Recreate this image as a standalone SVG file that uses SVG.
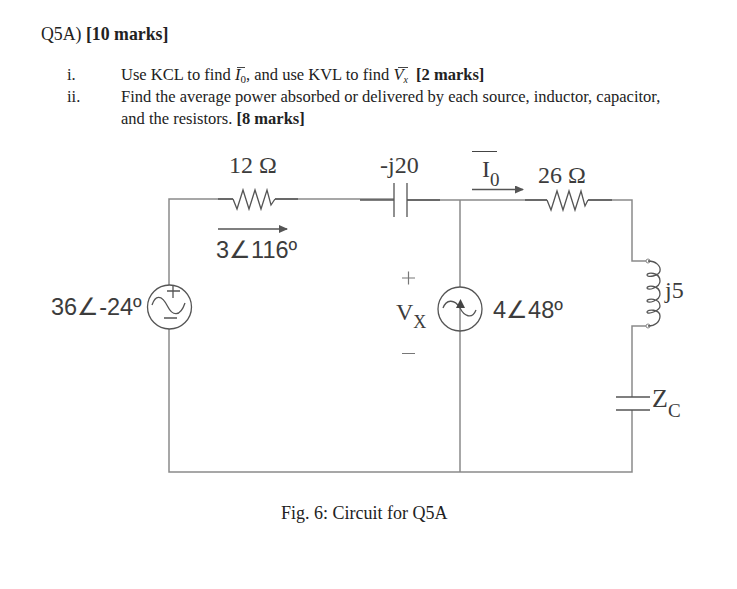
<svg xmlns="http://www.w3.org/2000/svg" width="737" height="589" viewBox="0 0 737 589">
<defs>
<style>
.w{fill:none;stroke:#8a8a8a;stroke-width:1.5}
.s{fill:none;stroke:#555;stroke-width:1.3}
.d{fill:none;stroke:#444;stroke-width:1}
.p{fill:none;stroke:#777;stroke-width:1.2}
.t{font-family:"Liberation Serif",serif;fill:#222;font-size:16.5px}
.h{font-family:"Liberation Serif",serif;fill:#222;font-size:17.8px}
.l{font-family:"Liberation Serif",serif;fill:#3c3c3c;font-size:24px}
.a{font-family:"Liberation Sans",sans-serif;fill:#3c3c3c;font-size:23.500px}
.b{font-weight:bold}
.i{font-style:italic}
</style>
<marker id="ah" markerWidth="9" markerHeight="8" refX="8" refY="4" orient="auto" markerUnits="userSpaceOnUse"><path d="M0 0L9 4L0 8Z" fill="#555"/></marker>
</defs>
<rect width="737" height="589" fill="#fff"/>
<g id="question">
<text class="h" x="41" y="40">Q5A) <tspan class="b">[10 marks]</tspan></text>
<text class="t" x="67" y="80">i.</text>
<text class="t" x="67" y="102">ii.</text>
<text class="t" x="121" y="80">Use KCL to find <tspan class="i">I</tspan><tspan font-size="11" dy="3">0</tspan><tspan dy="-3">, and use KVL to find </tspan><tspan class="i">V</tspan><tspan class="i" font-size="10" dy="3">x</tspan><tspan dy="-3"> </tspan><tspan class="b" dx="4">[2 marks]</tspan></text>
<path class="d" d="M237 67.500H245M398 67.500H408"/>
<text class="t" x="121" y="102">Find the average power absorbed or delivered by each source, inductor, capacitor,</text>
<text class="t" x="121" y="124">and the resistors. <tspan class="b">[8 marks]</tspan></text>
</g>
<g id="connectors">
<path class="w" d="M169 285V199H233M275 199H394M407 200H547M588 200H632V261H648M648 326H632V397M632 410V472H169V329M460 200V287M460 305V472"/>
<path class="s" d="M218 199H233M275 199H298M360 200H394M407 200H440M525 200H547M588 200H612" stroke-width="1"/>
</g>
<g id="r12">
<path class="s" d="M233 199L237 209L243 190L249 209L255 190L261 209L267 190L271 205L275 199"/>
<text class="l" x="229" y="173">12 Ω</text>
</g>
<g id="i-arrow">
<path class="s" d="M218 229H287" marker-end="url(#ah)"/>
<text class="a" x="216" y="258">3∠116º</text>
</g>
<g id="cap-j20">
<path class="s" d="M394 183V217M407 183V217"/>
<text class="l" x="380" y="173">-j20</text>
</g>
<g id="i0">
<path class="d" d="M472 151.500H497"/>
<path class="s" d="M472 189.500H523" marker-end="url(#ah)"/>
<text class="l" x="482" y="177">I<tspan font-size="19" dy="9">0</tspan></text>
</g>
<g id="r26">
<path class="s" d="M547 200L551 210L557 191L563 210L569 191L575 210L581 191L585 206L588 200"/>
<text class="l" x="538" y="183">26 Ω</text>
</g>
<g id="l-j5">
<circle cx="648" cy="261" r="2" fill="#fff" stroke="#888"/>
<circle cx="648" cy="326" r="2" fill="#fff" stroke="#888"/>
<path class="s" d="M648 261C656 261 661 266 660 271C659 276 647 278 647 275C647 272 660 272 660 281C660 288 647 291 647 288C647 285 660 285 660 294C660 301 647 304 647 301C647 298 660 298 660 306C660 311 647 315 647 312C647 309 660 309 660 316C660 322 655 326 648 326"/>
<text class="l" x="665" y="298">j5</text>
</g>
<g id="cap-zc">
<path class="s" d="M616 397H650M616 410H650"/>
<text class="l" x="652" y="407" style="font-size:26px">Z<tspan font-size="19" dy="10">C</tspan></text>
</g>
<g id="vs">
<circle class="s" cx="169.500" cy="307" r="22" fill="#fff"/>
<path class="s" d="M152 305C155 296 161 293 168 307C172 315 180 318 185 303M173 285V298M167 291H180M164 318H177"/>
<text class="a" x="51" y="315">36∠-24º</text>
</g>
<g id="is">
<path class="s" d="M443 308C446 300 454 298 460 308C464 316 472 320 476 310"/>
<circle class="s" cx="460" cy="309" r="22"/>
<path d="M460.500 299L465 308H456Z" fill="#444"/>
<text class="a" x="493" y="318">4∠48º</text>
</g>
<g id="vx">
<path class="p" d="M402 278H415M408.500 271.500V284.500M402 353.500H415"/>
<text class="l" x="396" y="320">V<tspan font-size="18" dy="8">X</tspan></text>
</g>
<text class="t" x="281" y="519" style="font-size:18px">Fig. 6: Circuit for Q5A</text>
</svg>
